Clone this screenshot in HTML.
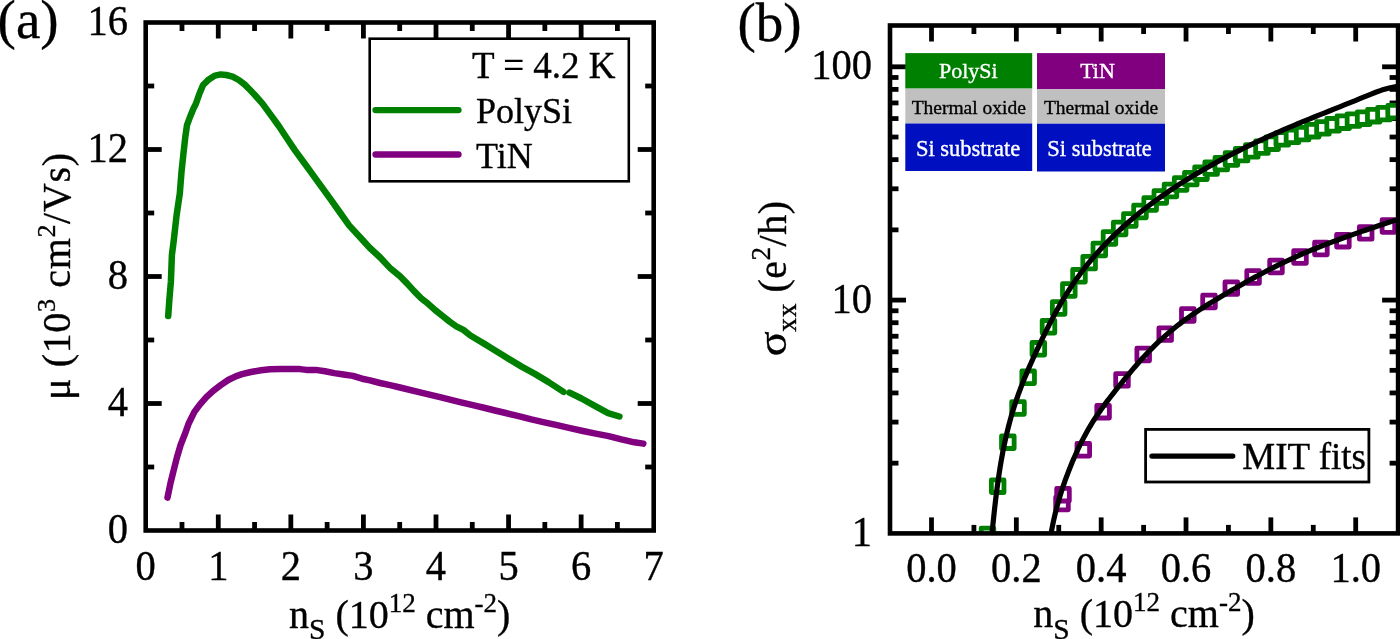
<!DOCTYPE html>
<html><head><meta charset="utf-8"><style>
html,body{margin:0;padding:0;background:#fff;}
body{width:1400px;height:639px;overflow:hidden;}
svg{display:block;will-change:transform;}
text{stroke:#000;stroke-width:0.35px;}
text.w{stroke:#fff;}
</style></head><body>
<svg width="1400" height="639" viewBox="0 0 1400 639">
<rect width="1400" height="639" fill="#fff"/>
<g font-family='"Liberation Serif", serif' fill='#000'>
<path d="M168.20,316.00 L169.50,298.00 L170.90,281.40 L171.90,255.00 L173.70,241.00 L176.50,216.00 L179.80,193.50 L181.50,172.00 L183.40,154.00 L185.30,137.00 L187.00,125.20 L190.00,117.00 L193.50,108.50 L195.90,103.80 L199.40,93.80 L203.10,85.00 L208.80,79.40 L215.00,75.60 L220.70,74.40 L226.30,75.00 L232.60,76.60 L238.80,80.00 L244.50,84.40 L248.90,88.80 L254.40,94.50 L262.50,103.60 L270.70,114.80 L278.80,126.00 L286.90,138.20 L295.00,150.40 L303.20,161.50 L311.30,172.70 L319.40,183.90 L330.30,198.90 L338.90,211.00 L349.30,225.60 L359.60,236.80 L369.90,248.00 L380.20,257.50 L390.60,268.60 L400.00,276.30 L407.00,283.40 L414.10,291.10 L421.10,298.20 L428.20,303.80 L435.20,310.10 L442.30,315.80 L449.30,321.40 L456.30,326.30 L463.40,329.90 L470.40,335.50 L477.50,339.70 L484.50,343.90 L491.50,348.20 L501.70,354.60 L508.30,358.60 L521.60,366.60 L534.90,373.90 L548.20,381.90 L563.50,391.90" fill="none" stroke="#008000" stroke-width="6.5" stroke-linecap="round" stroke-linejoin="round"/>
<path d="M569.50,392.60 L581.50,398.50 L594.80,405.90 L608.10,413.20 L619.40,416.50" fill="none" stroke="#008000" stroke-width="6.5" stroke-linecap="round" stroke-linejoin="round"/>
<path d="M167.50,497.60 L170.60,482.60 L173.75,470.00 L176.90,457.50 L180.60,445.00 L185.00,433.80 L188.80,423.20 L194.40,411.90 L200.00,404.40 L206.60,396.90 L213.20,390.80 L220.70,385.20 L228.20,380.00 L235.70,376.30 L242.00,374.20 L251.00,372.00 L261.10,370.30 L270.00,369.30 L280.00,369.00 L290.00,369.00 L300.00,369.10 L306.40,369.90 L315.70,369.90 L325.00,371.20 L334.30,373.10 L343.60,374.50 L352.90,375.90 L362.10,378.70 L370.00,380.40 L380.00,383.00 L390.00,385.10 L400.00,387.50 L420.00,392.30 L440.00,397.20 L460.00,402.20 L475.00,405.60 L485.00,408.00 L495.00,410.50 L505.70,413.00 L518.60,416.20 L531.40,419.40 L544.30,422.30 L557.10,425.20 L570.00,428.20 L582.90,431.00 L595.70,433.60 L608.60,436.10 L621.40,439.40 L634.30,442.30 L643.30,443.60" fill="none" stroke="#800080" stroke-width="6.5" stroke-linecap="round" stroke-linejoin="round"/>
<rect x="369.7" y="38.7" width="259.1" height="142.6" fill="#fff" stroke="#000" stroke-width="2.6"/>
<line x1="375.50" y1="110.10" x2="458.50" y2="110.10" stroke="#008000" stroke-width="6.3" stroke-linecap="round"/>
<line x1="375.50" y1="154.50" x2="458.50" y2="154.50" stroke="#800080" stroke-width="6.3" stroke-linecap="round"/>
<text x="472" y="77.6" font-size="37">T = 4.2 K</text>
<text x="476" y="123.2" font-size="36">PolySi</text>
<text x="476" y="167.7" font-size="36">TiN</text>
<line x1="181.99" y1="530.50" x2="181.99" y2="522.00" stroke="#000" stroke-width="4.8" stroke-linecap="butt"/>
<line x1="181.99" y1="22.50" x2="181.99" y2="31.00" stroke="#000" stroke-width="4.8" stroke-linecap="butt"/>
<line x1="218.27" y1="530.50" x2="218.27" y2="514.50" stroke="#000" stroke-width="4.8" stroke-linecap="butt"/>
<line x1="218.27" y1="22.50" x2="218.27" y2="38.50" stroke="#000" stroke-width="4.8" stroke-linecap="butt"/>
<line x1="254.56" y1="530.50" x2="254.56" y2="522.00" stroke="#000" stroke-width="4.8" stroke-linecap="butt"/>
<line x1="254.56" y1="22.50" x2="254.56" y2="31.00" stroke="#000" stroke-width="4.8" stroke-linecap="butt"/>
<line x1="290.84" y1="530.50" x2="290.84" y2="514.50" stroke="#000" stroke-width="4.8" stroke-linecap="butt"/>
<line x1="290.84" y1="22.50" x2="290.84" y2="38.50" stroke="#000" stroke-width="4.8" stroke-linecap="butt"/>
<line x1="327.13" y1="530.50" x2="327.13" y2="522.00" stroke="#000" stroke-width="4.8" stroke-linecap="butt"/>
<line x1="327.13" y1="22.50" x2="327.13" y2="31.00" stroke="#000" stroke-width="4.8" stroke-linecap="butt"/>
<line x1="363.41" y1="530.50" x2="363.41" y2="514.50" stroke="#000" stroke-width="4.8" stroke-linecap="butt"/>
<line x1="363.41" y1="22.50" x2="363.41" y2="38.50" stroke="#000" stroke-width="4.8" stroke-linecap="butt"/>
<line x1="399.70" y1="530.50" x2="399.70" y2="522.00" stroke="#000" stroke-width="4.8" stroke-linecap="butt"/>
<line x1="399.70" y1="22.50" x2="399.70" y2="31.00" stroke="#000" stroke-width="4.8" stroke-linecap="butt"/>
<line x1="435.99" y1="530.50" x2="435.99" y2="514.50" stroke="#000" stroke-width="4.8" stroke-linecap="butt"/>
<line x1="435.99" y1="22.50" x2="435.99" y2="38.50" stroke="#000" stroke-width="4.8" stroke-linecap="butt"/>
<line x1="472.27" y1="530.50" x2="472.27" y2="522.00" stroke="#000" stroke-width="4.8" stroke-linecap="butt"/>
<line x1="472.27" y1="22.50" x2="472.27" y2="31.00" stroke="#000" stroke-width="4.8" stroke-linecap="butt"/>
<line x1="508.56" y1="530.50" x2="508.56" y2="514.50" stroke="#000" stroke-width="4.8" stroke-linecap="butt"/>
<line x1="508.56" y1="22.50" x2="508.56" y2="38.50" stroke="#000" stroke-width="4.8" stroke-linecap="butt"/>
<line x1="544.84" y1="530.50" x2="544.84" y2="522.00" stroke="#000" stroke-width="4.8" stroke-linecap="butt"/>
<line x1="544.84" y1="22.50" x2="544.84" y2="31.00" stroke="#000" stroke-width="4.8" stroke-linecap="butt"/>
<line x1="581.13" y1="530.50" x2="581.13" y2="514.50" stroke="#000" stroke-width="4.8" stroke-linecap="butt"/>
<line x1="581.13" y1="22.50" x2="581.13" y2="38.50" stroke="#000" stroke-width="4.8" stroke-linecap="butt"/>
<line x1="617.41" y1="530.50" x2="617.41" y2="522.00" stroke="#000" stroke-width="4.8" stroke-linecap="butt"/>
<line x1="617.41" y1="22.50" x2="617.41" y2="31.00" stroke="#000" stroke-width="4.8" stroke-linecap="butt"/>
<line x1="145.70" y1="467.00" x2="154.20" y2="467.00" stroke="#000" stroke-width="4.8" stroke-linecap="butt"/>
<line x1="653.70" y1="467.00" x2="645.20" y2="467.00" stroke="#000" stroke-width="4.8" stroke-linecap="butt"/>
<line x1="145.70" y1="403.50" x2="161.70" y2="403.50" stroke="#000" stroke-width="4.8" stroke-linecap="butt"/>
<line x1="653.70" y1="403.50" x2="637.70" y2="403.50" stroke="#000" stroke-width="4.8" stroke-linecap="butt"/>
<line x1="145.70" y1="340.00" x2="154.20" y2="340.00" stroke="#000" stroke-width="4.8" stroke-linecap="butt"/>
<line x1="653.70" y1="340.00" x2="645.20" y2="340.00" stroke="#000" stroke-width="4.8" stroke-linecap="butt"/>
<line x1="145.70" y1="276.50" x2="161.70" y2="276.50" stroke="#000" stroke-width="4.8" stroke-linecap="butt"/>
<line x1="653.70" y1="276.50" x2="637.70" y2="276.50" stroke="#000" stroke-width="4.8" stroke-linecap="butt"/>
<line x1="145.70" y1="213.00" x2="154.20" y2="213.00" stroke="#000" stroke-width="4.8" stroke-linecap="butt"/>
<line x1="653.70" y1="213.00" x2="645.20" y2="213.00" stroke="#000" stroke-width="4.8" stroke-linecap="butt"/>
<line x1="145.70" y1="149.50" x2="161.70" y2="149.50" stroke="#000" stroke-width="4.8" stroke-linecap="butt"/>
<line x1="653.70" y1="149.50" x2="637.70" y2="149.50" stroke="#000" stroke-width="4.8" stroke-linecap="butt"/>
<line x1="145.70" y1="86.00" x2="154.20" y2="86.00" stroke="#000" stroke-width="4.8" stroke-linecap="butt"/>
<line x1="653.70" y1="86.00" x2="645.20" y2="86.00" stroke="#000" stroke-width="4.8" stroke-linecap="butt"/>
<rect x="145.70" y="22.50" width="508.00" height="508.00" fill="none" stroke="#000" stroke-width="4.6" stroke-linejoin="miter"/>
<text transform="translate(145.70,579.50) scale(1,1.05)" font-size="40.5" text-anchor="middle">0</text>
<text transform="translate(218.27,579.50) scale(1,1.05)" font-size="40.5" text-anchor="middle">1</text>
<text transform="translate(290.84,579.50) scale(1,1.05)" font-size="40.5" text-anchor="middle">2</text>
<text transform="translate(363.41,579.50) scale(1,1.05)" font-size="40.5" text-anchor="middle">3</text>
<text transform="translate(435.99,579.50) scale(1,1.05)" font-size="40.5" text-anchor="middle">4</text>
<text transform="translate(508.56,579.50) scale(1,1.05)" font-size="40.5" text-anchor="middle">5</text>
<text transform="translate(581.13,579.50) scale(1,1.05)" font-size="40.5" text-anchor="middle">6</text>
<text transform="translate(653.70,579.50) scale(1,1.05)" font-size="40.5" text-anchor="middle">7</text>
<text transform="translate(128.00,543.10) scale(1,1.05)" font-size="40.5" text-anchor="end">0</text>
<text transform="translate(128.00,416.10) scale(1,1.05)" font-size="40.5" text-anchor="end">4</text>
<text transform="translate(128.00,289.10) scale(1,1.05)" font-size="40.5" text-anchor="end">8</text>
<text transform="translate(128.00,162.10) scale(1,1.05)" font-size="40.5" text-anchor="end">12</text>
<text transform="translate(128.00,35.10) scale(1,1.05)" font-size="40.5" text-anchor="end">16</text>
<text x="399.7" y="627.5" font-size="40" text-anchor="middle">n<tspan font-size="29.5" dy="11.5">S</tspan><tspan dy="-11.5"> (10</tspan><tspan font-size="27" dy="-16">12</tspan><tspan dy="16"> cm</tspan><tspan font-size="27" dy="-16">-2</tspan><tspan dy="16">)</tspan></text>
<text transform="translate(69.5,276.5) rotate(-90)" x="0" y="0" font-size="40" text-anchor="middle" textLength="247" lengthAdjust="spacing">μ (10<tspan font-size="26" dy="-15">3</tspan><tspan dy="15"> cm</tspan><tspan font-size="26" dy="-15">2</tspan><tspan dy="15">/Vs)</tspan></text>
<text x="-2.4" y="37.5" font-size="55">(a)</text>
<line x1="931.50" y1="533.40" x2="931.50" y2="517.40" stroke="#000" stroke-width="4.8" stroke-linecap="butt"/>
<line x1="931.50" y1="25.50" x2="931.50" y2="41.50" stroke="#000" stroke-width="4.8" stroke-linecap="butt"/>
<line x1="973.92" y1="533.40" x2="973.92" y2="524.90" stroke="#000" stroke-width="4.8" stroke-linecap="butt"/>
<line x1="973.92" y1="25.50" x2="973.92" y2="34.00" stroke="#000" stroke-width="4.8" stroke-linecap="butt"/>
<line x1="1016.34" y1="533.40" x2="1016.34" y2="517.40" stroke="#000" stroke-width="4.8" stroke-linecap="butt"/>
<line x1="1016.34" y1="25.50" x2="1016.34" y2="41.50" stroke="#000" stroke-width="4.8" stroke-linecap="butt"/>
<line x1="1058.76" y1="533.40" x2="1058.76" y2="524.90" stroke="#000" stroke-width="4.8" stroke-linecap="butt"/>
<line x1="1058.76" y1="25.50" x2="1058.76" y2="34.00" stroke="#000" stroke-width="4.8" stroke-linecap="butt"/>
<line x1="1101.18" y1="533.40" x2="1101.18" y2="517.40" stroke="#000" stroke-width="4.8" stroke-linecap="butt"/>
<line x1="1101.18" y1="25.50" x2="1101.18" y2="41.50" stroke="#000" stroke-width="4.8" stroke-linecap="butt"/>
<line x1="1143.60" y1="533.40" x2="1143.60" y2="524.90" stroke="#000" stroke-width="4.8" stroke-linecap="butt"/>
<line x1="1143.60" y1="25.50" x2="1143.60" y2="34.00" stroke="#000" stroke-width="4.8" stroke-linecap="butt"/>
<line x1="1186.02" y1="533.40" x2="1186.02" y2="517.40" stroke="#000" stroke-width="4.8" stroke-linecap="butt"/>
<line x1="1186.02" y1="25.50" x2="1186.02" y2="41.50" stroke="#000" stroke-width="4.8" stroke-linecap="butt"/>
<line x1="1228.44" y1="533.40" x2="1228.44" y2="524.90" stroke="#000" stroke-width="4.8" stroke-linecap="butt"/>
<line x1="1228.44" y1="25.50" x2="1228.44" y2="34.00" stroke="#000" stroke-width="4.8" stroke-linecap="butt"/>
<line x1="1270.86" y1="533.40" x2="1270.86" y2="517.40" stroke="#000" stroke-width="4.8" stroke-linecap="butt"/>
<line x1="1270.86" y1="25.50" x2="1270.86" y2="41.50" stroke="#000" stroke-width="4.8" stroke-linecap="butt"/>
<line x1="1313.28" y1="533.40" x2="1313.28" y2="524.90" stroke="#000" stroke-width="4.8" stroke-linecap="butt"/>
<line x1="1313.28" y1="25.50" x2="1313.28" y2="34.00" stroke="#000" stroke-width="4.8" stroke-linecap="butt"/>
<line x1="1355.70" y1="533.40" x2="1355.70" y2="517.40" stroke="#000" stroke-width="4.8" stroke-linecap="butt"/>
<line x1="1355.70" y1="25.50" x2="1355.70" y2="41.50" stroke="#000" stroke-width="4.8" stroke-linecap="butt"/>
<line x1="890.00" y1="463.17" x2="898.50" y2="463.17" stroke="#000" stroke-width="4.8" stroke-linecap="butt"/>
<line x1="1398.10" y1="463.17" x2="1389.60" y2="463.17" stroke="#000" stroke-width="4.8" stroke-linecap="butt"/>
<line x1="890.00" y1="422.09" x2="898.50" y2="422.09" stroke="#000" stroke-width="4.8" stroke-linecap="butt"/>
<line x1="1398.10" y1="422.09" x2="1389.60" y2="422.09" stroke="#000" stroke-width="4.8" stroke-linecap="butt"/>
<line x1="890.00" y1="392.94" x2="898.50" y2="392.94" stroke="#000" stroke-width="4.8" stroke-linecap="butt"/>
<line x1="1398.10" y1="392.94" x2="1389.60" y2="392.94" stroke="#000" stroke-width="4.8" stroke-linecap="butt"/>
<line x1="890.00" y1="370.33" x2="898.50" y2="370.33" stroke="#000" stroke-width="4.8" stroke-linecap="butt"/>
<line x1="1398.10" y1="370.33" x2="1389.60" y2="370.33" stroke="#000" stroke-width="4.8" stroke-linecap="butt"/>
<line x1="890.00" y1="351.86" x2="898.50" y2="351.86" stroke="#000" stroke-width="4.8" stroke-linecap="butt"/>
<line x1="1398.10" y1="351.86" x2="1389.60" y2="351.86" stroke="#000" stroke-width="4.8" stroke-linecap="butt"/>
<line x1="890.00" y1="336.24" x2="898.50" y2="336.24" stroke="#000" stroke-width="4.8" stroke-linecap="butt"/>
<line x1="1398.10" y1="336.24" x2="1389.60" y2="336.24" stroke="#000" stroke-width="4.8" stroke-linecap="butt"/>
<line x1="890.00" y1="322.71" x2="898.50" y2="322.71" stroke="#000" stroke-width="4.8" stroke-linecap="butt"/>
<line x1="1398.10" y1="322.71" x2="1389.60" y2="322.71" stroke="#000" stroke-width="4.8" stroke-linecap="butt"/>
<line x1="890.00" y1="310.78" x2="898.50" y2="310.78" stroke="#000" stroke-width="4.8" stroke-linecap="butt"/>
<line x1="1398.10" y1="310.78" x2="1389.60" y2="310.78" stroke="#000" stroke-width="4.8" stroke-linecap="butt"/>
<line x1="890.00" y1="300.10" x2="906.00" y2="300.10" stroke="#000" stroke-width="4.8" stroke-linecap="butt"/>
<line x1="1398.10" y1="300.10" x2="1382.10" y2="300.10" stroke="#000" stroke-width="4.8" stroke-linecap="butt"/>
<line x1="890.00" y1="229.87" x2="898.50" y2="229.87" stroke="#000" stroke-width="4.8" stroke-linecap="butt"/>
<line x1="1398.10" y1="229.87" x2="1389.60" y2="229.87" stroke="#000" stroke-width="4.8" stroke-linecap="butt"/>
<line x1="890.00" y1="188.79" x2="898.50" y2="188.79" stroke="#000" stroke-width="4.8" stroke-linecap="butt"/>
<line x1="1398.10" y1="188.79" x2="1389.60" y2="188.79" stroke="#000" stroke-width="4.8" stroke-linecap="butt"/>
<line x1="890.00" y1="159.64" x2="898.50" y2="159.64" stroke="#000" stroke-width="4.8" stroke-linecap="butt"/>
<line x1="1398.10" y1="159.64" x2="1389.60" y2="159.64" stroke="#000" stroke-width="4.8" stroke-linecap="butt"/>
<line x1="890.00" y1="137.03" x2="898.50" y2="137.03" stroke="#000" stroke-width="4.8" stroke-linecap="butt"/>
<line x1="1398.10" y1="137.03" x2="1389.60" y2="137.03" stroke="#000" stroke-width="4.8" stroke-linecap="butt"/>
<line x1="890.00" y1="118.56" x2="898.50" y2="118.56" stroke="#000" stroke-width="4.8" stroke-linecap="butt"/>
<line x1="1398.10" y1="118.56" x2="1389.60" y2="118.56" stroke="#000" stroke-width="4.8" stroke-linecap="butt"/>
<line x1="890.00" y1="102.94" x2="898.50" y2="102.94" stroke="#000" stroke-width="4.8" stroke-linecap="butt"/>
<line x1="1398.10" y1="102.94" x2="1389.60" y2="102.94" stroke="#000" stroke-width="4.8" stroke-linecap="butt"/>
<line x1="890.00" y1="89.41" x2="898.50" y2="89.41" stroke="#000" stroke-width="4.8" stroke-linecap="butt"/>
<line x1="1398.10" y1="89.41" x2="1389.60" y2="89.41" stroke="#000" stroke-width="4.8" stroke-linecap="butt"/>
<line x1="890.00" y1="77.48" x2="898.50" y2="77.48" stroke="#000" stroke-width="4.8" stroke-linecap="butt"/>
<line x1="1398.10" y1="77.48" x2="1389.60" y2="77.48" stroke="#000" stroke-width="4.8" stroke-linecap="butt"/>
<line x1="890.00" y1="66.80" x2="906.00" y2="66.80" stroke="#000" stroke-width="4.8" stroke-linecap="butt"/>
<line x1="1398.10" y1="66.80" x2="1382.10" y2="66.80" stroke="#000" stroke-width="4.8" stroke-linecap="butt"/>
<rect x="905.3" y="53.1" width="126.90000000000009" height="35.49999999999999" fill="#008000"/>
<rect x="905.3" y="88.6" width="126.90000000000009" height="34.900000000000006" fill="#c0c0c0"/>
<rect x="905.3" y="123.5" width="126.90000000000009" height="47.5" fill="#0010c0"/>
<text x="968.25" y="77.7" font-size="22" fill="#fff" class="w" text-anchor="middle">PolySi</text>
<text x="968.75" y="114" font-size="19.5" fill="#000" text-anchor="middle">Thermal oxide</text>
<text x="968.15" y="155.5" font-size="22.5" fill="#fff" class="w" text-anchor="middle">Si substrate</text>
<rect x="1037.0" y="53.1" width="128.0" height="36.199999999999996" fill="#800080"/>
<rect x="1037.0" y="89.3" width="128.0" height="34.400000000000006" fill="#c0c0c0"/>
<rect x="1037.0" y="123.7" width="128.0" height="47.8" fill="#0010c0"/>
<text x="1097.5" y="77.7" font-size="22" fill="#fff" class="w" text-anchor="middle">TiN</text>
<text x="1101.0" y="114" font-size="19.5" fill="#000" text-anchor="middle">Thermal oxide</text>
<text x="1099.5" y="155.5" font-size="22.5" fill="#fff" class="w" text-anchor="middle">Si substrate</text>
<clipPath id="cb"><rect x="890.0" y="25.5" width="508.0999999999999" height="507.9"/></clipPath>
<g clip-path="url(#cb)"><rect x="981.20" y="528.20" width="12.6" height="12.6" fill="#fff" stroke="#008000" stroke-width="4.8" stroke-linejoin="round"/>
<rect x="991.37" y="479.90" width="12.6" height="12.6" fill="#fff" stroke="#008000" stroke-width="4.8" stroke-linejoin="round"/>
<rect x="1001.53" y="435.90" width="12.6" height="12.6" fill="#fff" stroke="#008000" stroke-width="4.8" stroke-linejoin="round"/>
<rect x="1011.70" y="401.70" width="12.6" height="12.6" fill="#fff" stroke="#008000" stroke-width="4.8" stroke-linejoin="round"/>
<rect x="1021.86" y="371.00" width="12.6" height="12.6" fill="#fff" stroke="#008000" stroke-width="4.8" stroke-linejoin="round"/>
<rect x="1032.03" y="342.50" width="12.6" height="12.6" fill="#fff" stroke="#008000" stroke-width="4.8" stroke-linejoin="round"/>
<rect x="1042.19" y="320.50" width="12.6" height="12.6" fill="#fff" stroke="#008000" stroke-width="4.8" stroke-linejoin="round"/>
<rect x="1052.36" y="301.70" width="12.6" height="12.6" fill="#fff" stroke="#008000" stroke-width="4.8" stroke-linejoin="round"/>
<rect x="1062.52" y="283.70" width="12.6" height="12.6" fill="#fff" stroke="#008000" stroke-width="4.8" stroke-linejoin="round"/>
<rect x="1072.68" y="269.50" width="12.6" height="12.6" fill="#fff" stroke="#008000" stroke-width="4.8" stroke-linejoin="round"/>
<rect x="1082.85" y="256.30" width="12.6" height="12.6" fill="#fff" stroke="#008000" stroke-width="4.8" stroke-linejoin="round"/>
<rect x="1093.02" y="243.20" width="12.6" height="12.6" fill="#fff" stroke="#008000" stroke-width="4.8" stroke-linejoin="round"/>
<rect x="1103.18" y="231.70" width="12.6" height="12.6" fill="#fff" stroke="#008000" stroke-width="4.8" stroke-linejoin="round"/>
<rect x="1113.35" y="222.20" width="12.6" height="12.6" fill="#fff" stroke="#008000" stroke-width="4.8" stroke-linejoin="round"/>
<rect x="1123.51" y="213.70" width="12.6" height="12.6" fill="#fff" stroke="#008000" stroke-width="4.8" stroke-linejoin="round"/>
<rect x="1133.67" y="205.20" width="12.6" height="12.6" fill="#fff" stroke="#008000" stroke-width="4.8" stroke-linejoin="round"/>
<rect x="1143.84" y="197.70" width="12.6" height="12.6" fill="#fff" stroke="#008000" stroke-width="4.8" stroke-linejoin="round"/>
<rect x="1154.01" y="190.70" width="12.6" height="12.6" fill="#fff" stroke="#008000" stroke-width="4.8" stroke-linejoin="round"/>
<rect x="1164.17" y="184.20" width="12.6" height="12.6" fill="#fff" stroke="#008000" stroke-width="4.8" stroke-linejoin="round"/>
<rect x="1174.34" y="177.70" width="12.6" height="12.6" fill="#fff" stroke="#008000" stroke-width="4.8" stroke-linejoin="round"/>
<rect x="1184.50" y="172.30" width="12.6" height="12.6" fill="#fff" stroke="#008000" stroke-width="4.8" stroke-linejoin="round"/>
<rect x="1194.66" y="166.90" width="12.6" height="12.6" fill="#fff" stroke="#008000" stroke-width="4.8" stroke-linejoin="round"/>
<rect x="1204.83" y="161.80" width="12.6" height="12.6" fill="#fff" stroke="#008000" stroke-width="4.8" stroke-linejoin="round"/>
<rect x="1215.00" y="157.30" width="12.6" height="12.6" fill="#fff" stroke="#008000" stroke-width="4.8" stroke-linejoin="round"/>
<rect x="1225.16" y="152.70" width="12.6" height="12.6" fill="#fff" stroke="#008000" stroke-width="4.8" stroke-linejoin="round"/>
<rect x="1235.33" y="148.30" width="12.6" height="12.6" fill="#fff" stroke="#008000" stroke-width="4.8" stroke-linejoin="round"/>
<rect x="1245.49" y="144.60" width="12.6" height="12.6" fill="#fff" stroke="#008000" stroke-width="4.8" stroke-linejoin="round"/>
<rect x="1255.65" y="140.80" width="12.6" height="12.6" fill="#fff" stroke="#008000" stroke-width="4.8" stroke-linejoin="round"/>
<rect x="1265.82" y="136.90" width="12.6" height="12.6" fill="#fff" stroke="#008000" stroke-width="4.8" stroke-linejoin="round"/>
<rect x="1275.98" y="132.60" width="12.6" height="12.6" fill="#fff" stroke="#008000" stroke-width="4.8" stroke-linejoin="round"/>
<rect x="1286.15" y="130.10" width="12.6" height="12.6" fill="#fff" stroke="#008000" stroke-width="4.8" stroke-linejoin="round"/>
<rect x="1296.32" y="127.30" width="12.6" height="12.6" fill="#fff" stroke="#008000" stroke-width="4.8" stroke-linejoin="round"/>
<rect x="1306.48" y="124.40" width="12.6" height="12.6" fill="#fff" stroke="#008000" stroke-width="4.8" stroke-linejoin="round"/>
<rect x="1316.64" y="121.60" width="12.6" height="12.6" fill="#fff" stroke="#008000" stroke-width="4.8" stroke-linejoin="round"/>
<rect x="1326.81" y="118.50" width="12.6" height="12.6" fill="#fff" stroke="#008000" stroke-width="4.8" stroke-linejoin="round"/>
<rect x="1336.98" y="115.90" width="12.6" height="12.6" fill="#fff" stroke="#008000" stroke-width="4.8" stroke-linejoin="round"/>
<rect x="1347.14" y="113.80" width="12.6" height="12.6" fill="#fff" stroke="#008000" stroke-width="4.8" stroke-linejoin="round"/>
<rect x="1357.31" y="111.90" width="12.6" height="12.6" fill="#fff" stroke="#008000" stroke-width="4.8" stroke-linejoin="round"/>
<rect x="1367.47" y="109.40" width="12.6" height="12.6" fill="#fff" stroke="#008000" stroke-width="4.8" stroke-linejoin="round"/>
<rect x="1377.63" y="107.30" width="12.6" height="12.6" fill="#fff" stroke="#008000" stroke-width="4.8" stroke-linejoin="round"/>
<rect x="1387.80" y="105.30" width="12.6" height="12.6" fill="#fff" stroke="#008000" stroke-width="4.8" stroke-linejoin="round"/>
<rect x="1055.70" y="497.20" width="12.6" height="12.6" fill="#fff" stroke="#800080" stroke-width="4.8" stroke-linejoin="round"/>
<rect x="1056.70" y="488.40" width="12.6" height="12.6" fill="#fff" stroke="#800080" stroke-width="4.8" stroke-linejoin="round"/>
<rect x="1077.00" y="443.50" width="12.6" height="12.6" fill="#fff" stroke="#800080" stroke-width="4.8" stroke-linejoin="round"/>
<rect x="1096.80" y="405.40" width="12.6" height="12.6" fill="#fff" stroke="#800080" stroke-width="4.8" stroke-linejoin="round"/>
<rect x="1115.70" y="373.60" width="12.6" height="12.6" fill="#fff" stroke="#800080" stroke-width="4.8" stroke-linejoin="round"/>
<rect x="1136.90" y="348.20" width="12.6" height="12.6" fill="#fff" stroke="#800080" stroke-width="4.8" stroke-linejoin="round"/>
<rect x="1158.90" y="327.80" width="12.6" height="12.6" fill="#fff" stroke="#800080" stroke-width="4.8" stroke-linejoin="round"/>
<rect x="1181.50" y="308.70" width="12.6" height="12.6" fill="#fff" stroke="#800080" stroke-width="4.8" stroke-linejoin="round"/>
<rect x="1202.70" y="295.20" width="12.6" height="12.6" fill="#fff" stroke="#800080" stroke-width="4.8" stroke-linejoin="round"/>
<rect x="1225.00" y="281.80" width="12.6" height="12.6" fill="#fff" stroke="#800080" stroke-width="4.8" stroke-linejoin="round"/>
<rect x="1246.80" y="270.70" width="12.6" height="12.6" fill="#fff" stroke="#800080" stroke-width="4.8" stroke-linejoin="round"/>
<rect x="1269.70" y="260.20" width="12.6" height="12.6" fill="#fff" stroke="#800080" stroke-width="4.8" stroke-linejoin="round"/>
<rect x="1293.70" y="250.70" width="12.6" height="12.6" fill="#fff" stroke="#800080" stroke-width="4.8" stroke-linejoin="round"/>
<rect x="1314.60" y="242.20" width="12.6" height="12.6" fill="#fff" stroke="#800080" stroke-width="4.8" stroke-linejoin="round"/>
<rect x="1336.60" y="234.40" width="12.6" height="12.6" fill="#fff" stroke="#800080" stroke-width="4.8" stroke-linejoin="round"/>
<rect x="1359.40" y="226.60" width="12.6" height="12.6" fill="#fff" stroke="#800080" stroke-width="4.8" stroke-linejoin="round"/>
<rect x="1382.10" y="219.70" width="12.6" height="12.6" fill="#fff" stroke="#800080" stroke-width="4.8" stroke-linejoin="round"/></g>
<g clip-path="url(#cb)"><path d="M991.28,540.40 L991.49,538.31 L991.71,536.23 L991.92,534.15 L992.14,532.06 L992.35,529.98 L992.57,527.89 L992.78,525.81 L993.00,523.72 L993.22,521.64 L993.44,519.55 L993.66,517.47 L993.88,515.38 L994.11,513.30 L994.33,511.21 L994.56,509.13 L994.80,507.05 L995.03,504.96 L995.27,502.88 L995.52,500.79 L995.76,498.71 L996.02,496.62 L996.27,494.54 L996.53,492.45 L996.80,490.37 L997.07,488.28 L997.34,486.20 L997.62,484.11 L997.91,482.03 L998.20,479.94 L998.50,477.86 L998.81,475.78 L999.12,473.69 L999.44,471.61 L999.76,469.52 L1000.10,467.44 L1000.44,465.35 L1000.79,463.27 L1001.14,461.18 L1001.51,459.10 L1001.88,457.01 L1002.27,454.93 L1002.66,452.84 L1003.06,450.76 L1003.47,448.68 L1003.89,446.59 L1004.33,444.51 L1004.77,442.42 L1005.22,440.34 L1005.68,438.25 L1006.16,436.17 L1006.64,434.08 L1007.14,432.00 L1007.65,429.91 L1008.17,427.83 L1008.70,425.74 L1009.24,423.66 L1009.80,421.58 L1010.37,419.49 L1010.95,417.41 L1011.55,415.32 L1012.16,413.24 L1012.79,411.15 L1013.43,409.07 L1014.08,406.98 L1014.75,404.90 L1015.43,402.81 L1016.13,400.73 L1016.84,398.64 L1017.57,396.56 L1018.31,394.48 L1019.07,392.39 L1019.84,390.31 L1020.63,388.22 L1021.42,386.14 L1022.23,384.05 L1023.06,381.97 L1023.89,379.88 L1024.74,377.80 L1025.60,375.71 L1026.47,373.63 L1027.35,371.54 L1028.24,369.46 L1029.14,367.38 L1030.05,365.29 L1030.97,363.21 L1031.90,361.12 L1032.83,359.04 L1033.78,356.95 L1034.73,354.87 L1035.68,352.78 L1036.65,350.70 L1037.62,348.61 L1038.60,346.53 L1039.58,344.44 L1040.57,342.36 L1041.56,340.28 L1042.56,338.19 L1043.57,336.11 L1044.58,334.02 L1045.60,331.94 L1046.64,329.85 L1047.68,327.77 L1048.73,325.68 L1049.79,323.60 L1050.87,321.51 L1051.95,319.43 L1053.05,317.34 L1054.17,315.26 L1055.30,313.18 L1056.44,311.09 L1057.60,309.01 L1058.78,306.92 L1059.97,304.84 L1061.18,302.75 L1062.41,300.67 L1063.66,298.58 L1064.93,296.50 L1066.22,294.41 L1067.54,292.33 L1068.87,290.24 L1070.23,288.16 L1071.61,286.08 L1073.01,283.99 L1074.44,281.91 L1075.90,279.82 L1077.38,277.74 L1078.89,275.65 L1080.42,273.57 L1081.99,271.48 L1083.58,269.40 L1085.20,267.31 L1086.85,265.23 L1088.53,263.14 L1090.24,261.06 L1091.98,258.98 L1093.75,256.89 L1095.56,254.81 L1097.40,252.72 L1099.27,250.64 L1101.17,248.55 L1103.11,246.47 L1105.08,244.38 L1107.09,242.30 L1109.14,240.21 L1111.22,238.13 L1113.34,236.04 L1115.50,233.96 L1117.69,231.88 L1119.93,229.79 L1122.20,227.71 L1124.51,225.62 L1126.87,223.54 L1129.26,221.45 L1131.70,219.37 L1134.17,217.28 L1136.70,215.20 L1139.26,213.11 L1141.87,211.03 L1144.52,208.94 L1147.22,206.86 L1149.96,204.78 L1152.75,202.69 L1155.58,200.61 L1158.46,198.52 L1161.39,196.44 L1164.37,194.35 L1167.40,192.27 L1170.47,190.18 L1173.60,188.10 L1176.77,186.01 L1180.00,183.93 L1183.28,181.84 L1186.61,179.76 L1189.99,177.67 L1193.42,175.59 L1196.91,173.51 L1200.46,171.42 L1204.06,169.34 L1207.71,167.25 L1211.43,165.17 L1215.19,163.08 L1219.02,161.00 L1222.91,158.91 L1226.85,156.83 L1230.85,154.74 L1234.92,152.66 L1239.04,150.57 L1243.22,148.49 L1247.47,146.41 L1251.78,144.32 L1256.16,142.24 L1260.59,140.15 L1265.09,138.07 L1269.66,135.98 L1274.29,133.90 L1278.99,131.81 L1283.76,129.73 L1288.59,127.64 L1293.49,125.56 L1298.46,123.47 L1303.50,121.39 L1308.58,119.31 L1313.72,117.22 L1318.88,115.14 L1324.08,113.05 L1329.29,110.97 L1334.51,108.88 L1339.74,106.80 L1344.95,104.71 L1350.14,102.63 L1355.31,100.54 L1360.43,98.46 L1365.52,96.37 L1370.55,94.29 L1375.77,92.21 L1381.79,90.12 L1389.24,88.04 L1398.78,85.95 L1411.04,83.87" fill="none" stroke="#000" stroke-width="5.2" stroke-linejoin="round"/>
<path d="M1050.28,538.40 L1050.51,536.93 L1050.75,535.46 L1051.00,534.00 L1051.25,532.53 L1051.51,531.06 L1051.78,529.59 L1052.06,528.12 L1052.34,526.66 L1052.64,525.19 L1052.94,523.72 L1053.24,522.25 L1053.56,520.79 L1053.88,519.32 L1054.21,517.85 L1054.55,516.38 L1054.90,514.92 L1055.25,513.45 L1055.61,511.98 L1055.98,510.51 L1056.36,509.04 L1056.74,507.58 L1057.13,506.11 L1057.53,504.64 L1057.93,503.17 L1058.35,501.71 L1058.77,500.24 L1059.20,498.77 L1059.63,497.30 L1060.08,495.83 L1060.53,494.37 L1060.98,492.90 L1061.45,491.43 L1061.92,489.96 L1062.40,488.50 L1062.89,487.03 L1063.38,485.56 L1063.89,484.09 L1064.40,482.63 L1064.91,481.16 L1065.44,479.69 L1065.97,478.22 L1066.51,476.75 L1067.05,475.29 L1067.61,473.82 L1068.17,472.35 L1068.73,470.88 L1069.31,469.42 L1069.89,467.95 L1070.48,466.48 L1071.08,465.01 L1071.68,463.54 L1072.29,462.08 L1072.91,460.61 L1073.54,459.14 L1074.17,457.67 L1074.81,456.21 L1075.46,454.74 L1076.12,453.27 L1076.78,451.80 L1077.46,450.34 L1078.14,448.87 L1078.84,447.40 L1079.54,445.93 L1080.26,444.46 L1080.98,443.00 L1081.72,441.53 L1082.47,440.06 L1083.23,438.59 L1084.00,437.13 L1084.79,435.66 L1085.58,434.19 L1086.39,432.72 L1087.22,431.25 L1088.05,429.79 L1088.90,428.32 L1089.77,426.85 L1090.65,425.38 L1091.54,423.92 L1092.45,422.45 L1093.37,420.98 L1094.31,419.51 L1095.27,418.05 L1096.24,416.58 L1097.22,415.11 L1098.22,413.64 L1099.24,412.17 L1100.26,410.71 L1101.31,409.24 L1102.36,407.77 L1103.42,406.30 L1104.50,404.84 L1105.58,403.37 L1106.68,401.90 L1107.79,400.43 L1108.90,398.97 L1110.03,397.50 L1111.16,396.03 L1112.30,394.56 L1113.45,393.09 L1114.61,391.63 L1115.77,390.16 L1116.93,388.69 L1118.11,387.22 L1119.28,385.76 L1120.47,384.29 L1121.65,382.82 L1122.84,381.35 L1124.03,379.88 L1125.23,378.42 L1126.43,376.95 L1127.64,375.48 L1128.85,374.01 L1130.07,372.55 L1131.30,371.08 L1132.54,369.61 L1133.78,368.14 L1135.04,366.68 L1136.31,365.21 L1137.59,363.74 L1138.88,362.27 L1140.18,360.80 L1141.50,359.34 L1142.84,357.87 L1144.19,356.40 L1145.55,354.93 L1146.94,353.47 L1148.34,352.00 L1149.76,350.53 L1151.20,349.06 L1152.66,347.59 L1154.14,346.13 L1155.64,344.66 L1157.17,343.19 L1158.72,341.72 L1160.29,340.26 L1161.89,338.79 L1163.51,337.32 L1165.16,335.85 L1166.84,334.39 L1168.54,332.92 L1170.28,331.45 L1172.04,329.98 L1173.83,328.51 L1175.66,327.05 L1177.51,325.58 L1179.40,324.11 L1181.33,322.64 L1183.28,321.18 L1185.27,319.71 L1187.30,318.24 L1189.36,316.77 L1191.47,315.30 L1193.60,313.84 L1195.78,312.37 L1197.99,310.90 L1200.23,309.43 L1202.50,307.97 L1204.80,306.50 L1207.13,305.03 L1209.48,303.56 L1211.87,302.10 L1214.27,300.63 L1216.70,299.16 L1219.14,297.69 L1221.61,296.22 L1224.09,294.76 L1226.59,293.29 L1229.11,291.82 L1231.63,290.35 L1234.17,288.89 L1236.72,287.42 L1239.28,285.95 L1241.86,284.48 L1244.45,283.01 L1247.06,281.55 L1249.70,280.08 L1252.35,278.61 L1255.04,277.14 L1257.75,275.68 L1260.49,274.21 L1263.26,272.74 L1266.06,271.27 L1268.90,269.81 L1271.78,268.34 L1274.70,266.87 L1277.66,265.40 L1280.66,263.93 L1283.71,262.47 L1286.81,261.00 L1289.96,259.53 L1293.16,258.06 L1296.42,256.60 L1299.73,255.13 L1303.10,253.66 L1306.53,252.19 L1310.02,250.72 L1313.58,249.26 L1317.20,247.79 L1320.90,246.32 L1324.66,244.85 L1328.49,243.39 L1332.38,241.92 L1336.33,240.45 L1340.34,238.98 L1344.40,237.52 L1348.52,236.05 L1352.68,234.58 L1356.89,233.11 L1361.15,231.64 L1365.44,230.18 L1369.77,228.71 L1374.13,227.24 L1378.53,225.77 L1382.96,224.31 L1387.41,222.84 L1391.88,221.37 L1396.38,219.90 L1400.89,218.43 L1405.42,216.97" fill="none" stroke="#000" stroke-width="5.2" stroke-linejoin="round"/></g>
<rect x="1145.6" y="429.4" width="223.3" height="52.6" fill="#fff" stroke="#000" stroke-width="2.8"/>
<line x1="1151.90" y1="456.10" x2="1232.80" y2="456.10" stroke="#000" stroke-width="5.2" stroke-linecap="round"/>
<text x="1242.3" y="468.6" font-size="37">MIT fits</text>
<rect x="890.00" y="25.50" width="508.10" height="507.90" fill="none" stroke="#000" stroke-width="4.6" stroke-linejoin="miter"/>
<text transform="translate(931.50,582.00) scale(1,1.05)" font-size="40.5" text-anchor="middle">0.0</text>
<text transform="translate(1016.34,582.00) scale(1,1.05)" font-size="40.5" text-anchor="middle">0.2</text>
<text transform="translate(1101.18,582.00) scale(1,1.05)" font-size="40.5" text-anchor="middle">0.4</text>
<text transform="translate(1186.02,582.00) scale(1,1.05)" font-size="40.5" text-anchor="middle">0.6</text>
<text transform="translate(1270.86,582.00) scale(1,1.05)" font-size="40.5" text-anchor="middle">0.8</text>
<text transform="translate(1355.70,582.00) scale(1,1.05)" font-size="40.5" text-anchor="middle">1.0</text>
<text transform="translate(872.00,546.00) scale(1,1.05)" font-size="40.5" text-anchor="end">1</text>
<text transform="translate(872.00,312.70) scale(1,1.05)" font-size="40.5" text-anchor="end">10</text>
<text transform="translate(872.00,79.40) scale(1,1.05)" font-size="40.5" text-anchor="end">100</text>
<text x="1144.0" y="627.3" font-size="40" text-anchor="middle">n<tspan font-size="29.5" dy="11.5">S</tspan><tspan dy="-11.5"> (10</tspan><tspan font-size="27" dy="-16">12</tspan><tspan dy="16"> cm</tspan><tspan font-size="27" dy="-16">-2</tspan><tspan dy="16">)</tspan></text>
<g transform="translate(786,279.45) rotate(-90)" font-size="40"><text transform="scale(1.16,1)" x="-66.30" y="0">σ</text><text x="-52.19" y="0" textLength="130.70" lengthAdjust="spacing"><tspan font-size="27.5" dy="10">xx</tspan><tspan dy="-10"> (e</tspan><tspan font-size="27" dy="-16">2</tspan><tspan dy="16">/h)</tspan></text></g>
<text x="737.4" y="40.8" font-size="55">(b)</text>
</g></svg>
</body></html>
